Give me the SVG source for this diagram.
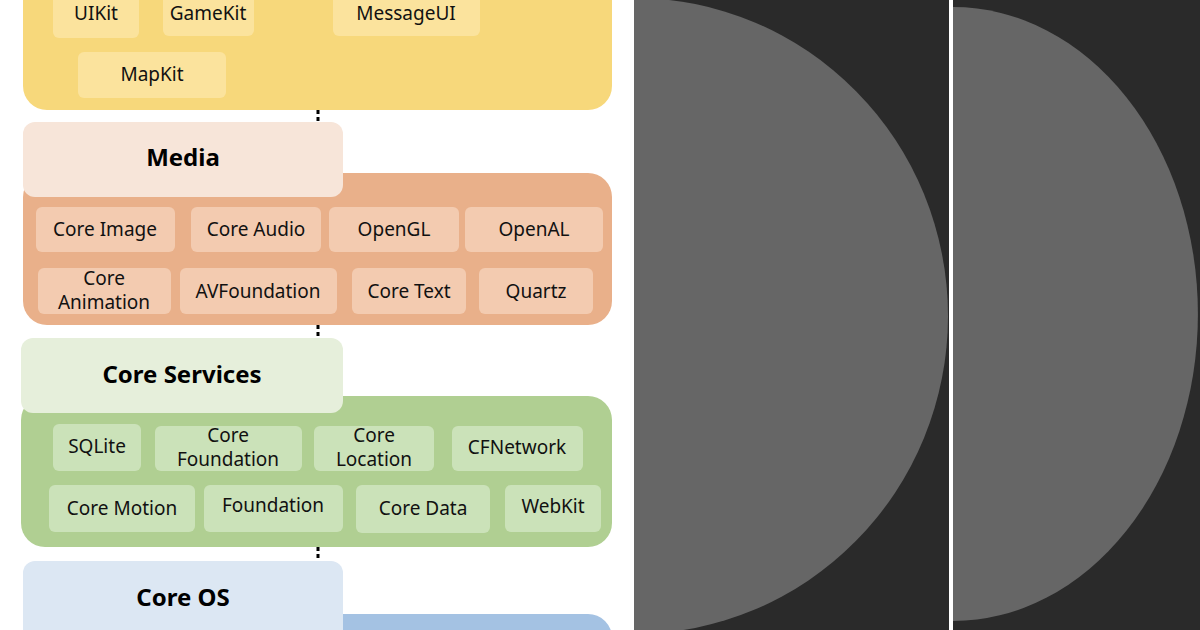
<svg xmlns="http://www.w3.org/2000/svg" width="1200" height="630" viewBox="0 0 1200 630">
<style>
.t{font-family:"Noto Sans","Liberation Sans",sans-serif;font-size:19px;fill:#111;text-anchor:middle;dominant-baseline:central}
.h{font-family:"Noto Sans","Liberation Sans",sans-serif;font-size:24px;font-weight:bold;fill:#000;text-anchor:middle;dominant-baseline:central}
.cy{fill:#fbe39d}.cm{fill:#f3cbb0}.cg{fill:#cbe2b9}
.dot{stroke:#000;stroke-width:3;stroke-dasharray:4 3}
</style>
<rect width="1200" height="630" fill="#fff"/>
<rect x="634" y="0" width="566" height="630" fill="#2a2a2a"/>
<path d="M634,-2 A314,318 0 0 1 634,634 Z" fill="#666"/>
<rect x="949" y="0" width="4" height="630" fill="#fff"/>
<path d="M953,7 A245,307 0 0 1 953,621 Z" fill="#666"/>
<g id="connectors">
<line class="dot" x1="318" y1="110" x2="318" y2="123"/>
<line class="dot" x1="318" y1="325" x2="318" y2="339"/>
<line class="dot" x1="318" y1="547" x2="318" y2="561"/>
</g>
<g id="app">
<rect x="23" y="-40" width="589" height="150" rx="24" fill="#f7d87b"/>
<rect class="cy" x="53" y="-10" width="86" height="48" rx="6"/><text class="t" x="96" y="13">UIKit</text>
<rect class="cy" x="163" y="-10" width="91" height="46" rx="6"/><text class="t" x="208" y="13">GameKit</text>
<rect class="cy" x="333" y="-10" width="147" height="46" rx="6"/><text class="t" x="406" y="13">MessageUI</text>
<rect class="cy" x="78" y="52" width="148" height="46" rx="6"/><text class="t" x="152" y="74">MapKit</text>
</g>
<g id="media">
<rect x="23" y="173" width="589" height="152" rx="24" fill="#e9b08a"/>
<rect x="23" y="122" width="320" height="75" rx="12" fill="#f7e5d9"/>
<text class="h" x="183" y="156">Media</text>
<rect class="cm" x="36" y="207" width="139" height="45" rx="6"/><text class="t" x="105" y="229">Core Image</text>
<rect class="cm" x="191" y="207" width="130" height="45" rx="6"/><text class="t" x="256" y="229">Core Audio</text>
<rect class="cm" x="329" y="207" width="130" height="45" rx="6"/><text class="t" x="394" y="229">OpenGL</text>
<rect class="cm" x="465" y="207" width="138" height="45" rx="6"/><text class="t" x="534" y="229">OpenAL</text>
<rect class="cm" x="38" y="268" width="133" height="46" rx="6"/><text class="t" x="104" y="278">Core</text><text class="t" x="104" y="302">Animation</text>
<rect class="cm" x="180" y="268" width="157" height="46" rx="6"/><text class="t" x="258" y="291">AVFoundation</text>
<rect class="cm" x="352" y="268" width="114" height="46" rx="6"/><text class="t" x="409" y="291">Core Text</text>
<rect class="cm" x="479" y="268" width="114" height="46" rx="6"/><text class="t" x="536" y="291">Quartz</text>
</g>
<g id="coreservices">
<rect x="21" y="396" width="591" height="151" rx="24" fill="#b0cf92"/>
<rect x="21" y="338" width="322" height="75" rx="12" fill="#e6efdb"/>
<text class="h" x="182" y="373">Core Services</text>
<rect class="cg" x="53" y="424" width="88" height="47" rx="6"/><text class="t" x="97" y="446">SQLite</text>
<rect class="cg" x="155" y="426" width="147" height="45" rx="6"/><text class="t" x="228" y="435">Core</text><text class="t" x="228" y="459">Foundation</text>
<rect class="cg" x="314" y="426" width="120" height="45" rx="6"/><text class="t" x="374" y="435">Core</text><text class="t" x="374" y="459">Location</text>
<rect class="cg" x="452" y="426" width="131" height="45" rx="6"/><text class="t" x="517" y="447">CFNetwork</text>
<rect class="cg" x="49" y="485" width="146" height="47" rx="6"/><text class="t" x="122" y="508">Core Motion</text>
<rect class="cg" x="204" y="485" width="139" height="47" rx="6"/><text class="t" x="273" y="505">Foundation</text>
<rect class="cg" x="356" y="485" width="134" height="48" rx="6"/><text class="t" x="423" y="508">Core Data</text>
<rect class="cg" x="505" y="485" width="96" height="47" rx="6"/><text class="t" x="553" y="506">WebKit</text>
</g>
<g id="coreos">
<rect x="23" y="614" width="589" height="60" rx="24" fill="#a4c2e3"/>
<rect x="23" y="561" width="320" height="90" rx="12" fill="#dce7f3"/>
<text class="h" x="183" y="596">Core OS</text>
</g>
</svg>
